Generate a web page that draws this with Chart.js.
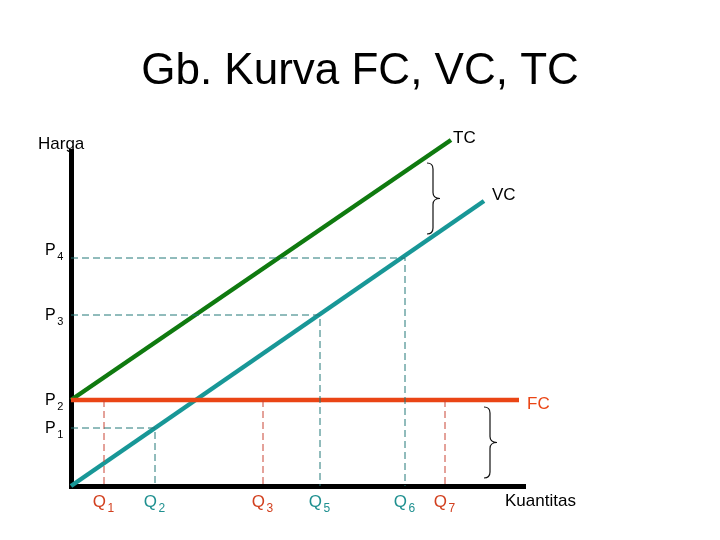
<!DOCTYPE html>
<html><head><meta charset="utf-8">
<script src="https://cdn.jsdelivr.net/npm/chart.js@4"></script>
<style>html,body{margin:0;padding:0;background:#fff}#wrap{width:720px;height:540px;position:relative}</style>
</head><body><div id="wrap"><canvas id="c" width="720" height="540"></canvas></div>
<script>
// ---- data (abstract units) ----
const titleText = 'Gb. Kurva FC, VC, TC';
const qNames = ['1','2','3','5','6','7'];
const qValues = [3.3, 8.4, 19.2, 24.9, 33.4, 37.4];
const qColorKeys = ['fc','vc','fc','vc','vc','fc'];
const pNames = ['1','2','3','4'];
const pValues = [5.8, 8.6, 17.1, 22.8];
const fcLine = [{x:0,y:8.6},{x:44.8,y:8.6}];
const tcLine = [{x:0,y:8.6},{x:38.0,y:34.6}];
const vcLine = [{x:0,y:0},{x:41.3,y:28.5}];
// guides: price level -> quantity level (teal)
const tealGuides = [[5.8, 8.4],[17.1, 24.9],[22.8, 33.4]];
// red verticals from FC down to axis at Q1,Q3,Q7
const redGuidesX = [3.3, 19.2, 37.4];
const fcLevel = 8.6;
const braces = [{x:36.2, yTop:32.3, yBot:25.2},{x:41.9, yTop:7.9, yBot:0.8}];
const xMax = 45.4, yMax = 33.5;

const COL = {tc:'#0f7a0f', vc:'#189797', fc:'#ea4515', dashTeal:'#237878', dashRed:'#c94535', lblRed:'#d2401f', lblTeal:'#1f9090'};
const FONT = '"Liberation Sans", Arial, sans-serif';

const datasets = [];
tealGuides.forEach(([p,q]) => {
  datasets.push({data:[{x:0,y:p},{x:q,y:p},{x:q,y:0}], borderColor:COL.dashTeal, borderWidth:1, borderDash:[7,4], pointRadius:0, showLine:true, fill:false});
});
redGuidesX.forEach(q => {
  datasets.push({data:[{x:q,y:fcLevel},{x:q,y:0}], borderColor:COL.dashRed, borderWidth:1, borderDash:[7,4], pointRadius:0, showLine:true, fill:false});
});
datasets.push({data:fcLine, borderColor:COL.fc, borderWidth:4.5, pointRadius:0, showLine:true, clip:false});
datasets.push({data:vcLine, borderColor:COL.vc, borderWidth:4.5, pointRadius:0, showLine:true, clip:false});
datasets.push({data:tcLine, borderColor:COL.tc, borderWidth:4.5, pointRadius:0, showLine:true, clip:false});

function sub(ctx, main, s, x, y, size, color, align){
  ctx.fillStyle = color;
  ctx.font = size + 'px ' + FONT;
  const w = ctx.measureText(main).width;
  let x0 = x;
  if (align === 'qright') x0 = x - w;
  ctx.textAlign = 'left'; ctx.textBaseline = 'alphabetic';
  ctx.fillText(main, x0, y);
  ctx.font = Math.round(size*0.68) + 'px ' + FONT;
  ctx.fillText(s, x0 + w + 1.5, y + 5);
}

function brace(ctx, x, yT, yB){
  const m = (yT + yB)/2;
  ctx.beginPath();
  ctx.moveTo(x-6, yT);
  ctx.quadraticCurveTo(x, yT, x, yT+6);
  ctx.lineTo(x, m-6);
  ctx.quadraticCurveTo(x, m, x+7, m);
  ctx.quadraticCurveTo(x, m, x, m+6);
  ctx.lineTo(x, yB-6);
  ctx.quadraticCurveTo(x, yB, x-6, yB);
  ctx.strokeStyle = '#111'; ctx.lineWidth = 1.2; ctx.stroke();
}

const labelsPlugin = {
  id:'labels',
  afterDatasetsDraw(chart){
    const ctx = chart.ctx, xs = chart.scales.x, ys = chart.scales.y;
    ctx.save();
    ctx.fillStyle = '#000'; ctx.font = '44px ' + FONT; ctx.textAlign = 'center'; ctx.textBaseline = 'alphabetic';
    ctx.fillText(titleText, 360, 84);
    ctx.font = '17px ' + FONT; ctx.textAlign = 'left';
    ctx.fillText('Harga', 38, 149);
    ctx.fillText('Kuantitas', 505, 506);
    const tcEnd = tcLine[tcLine.length-1], vcEnd = vcLine[vcLine.length-1], fcEnd = fcLine[fcLine.length-1];
    ctx.fillStyle = '#000';
    ctx.fillText('TC', xs.getPixelForValue(tcEnd.x)+2, ys.getPixelForValue(tcEnd.y)+3);
    ctx.fillText('VC', xs.getPixelForValue(vcEnd.x)+8, ys.getPixelForValue(vcEnd.y)-1);
    ctx.fillStyle = COL.fc;
    ctx.fillText('FC', xs.getPixelForValue(fcEnd.x)+8, ys.getPixelForValue(fcEnd.y)+9);
    const pOff = [5, 5, 5, -3];
    pValues.forEach((v,i) => {
      sub(ctx, 'P', pNames[i], 45, ys.getPixelForValue(v)+pOff[i], 16, '#000');
    });
    qValues.forEach((v,i) => {
      const c = qColorKeys[i]==='fc' ? COL.lblRed : COL.lblTeal;
      sub(ctx, 'Q', qNames[i], xs.getPixelForValue(v)+2, 507, 17, c, 'qright');
    });
    braces.forEach(b => brace(ctx, xs.getPixelForValue(b.x), ys.getPixelForValue(b.yTop), ys.getPixelForValue(b.yBot)));
    ctx.restore();
  }
};

new Chart(document.getElementById('c'), {
  type:'scatter',
  data:{datasets},
  options:{
    responsive:false, animation:false,
    layout:{padding:{left:71, top:151, right:195, bottom:54}},
    plugins:{legend:{display:false}, tooltip:{enabled:false}},
    scales:{
      x:{type:'linear', min:0, max:xMax, grid:{display:false, drawTicks:false}, ticks:{display:false}, border:{display:true, color:'#000', width:5},
         afterFit(s){ s.height = 0; }},
      y:{type:'linear', min:0, max:yMax, grid:{display:false, drawTicks:false}, ticks:{display:false}, border:{display:true, color:'#000', width:5},
         afterFit(s){ s.width = 0; }}
    }
  },
  plugins:[labelsPlugin]
});
</script></body></html>
